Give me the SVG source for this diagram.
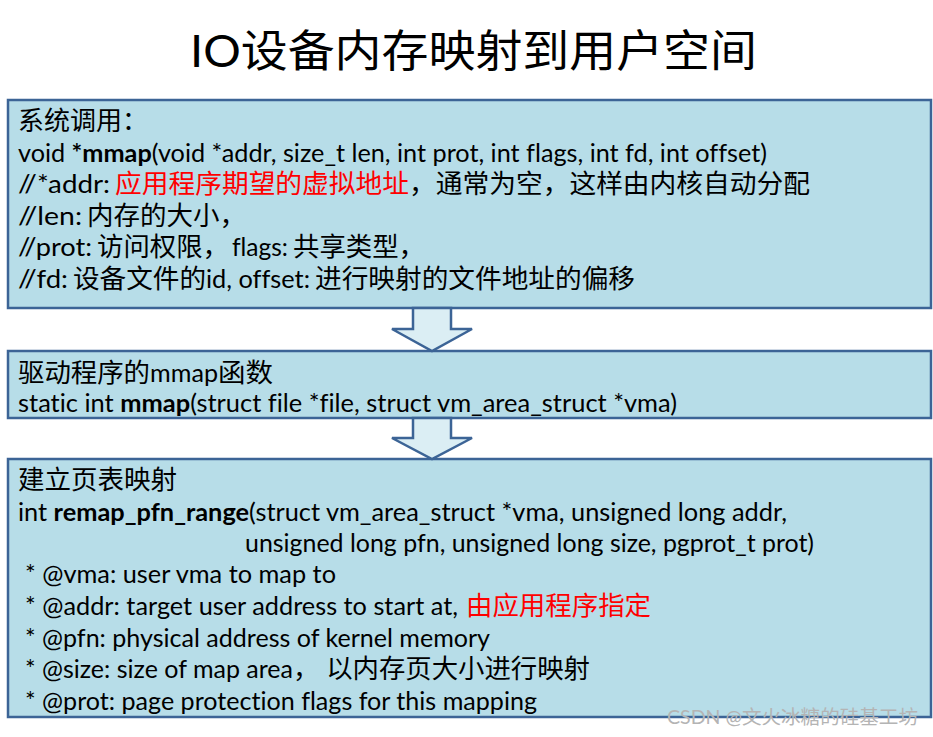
<svg xmlns="http://www.w3.org/2000/svg" width="933" height="737" viewBox="0 0 933 737">
<style>
.box{fill:#b7dde8;stroke:#3c6496;stroke-width:2.5}
.arr{fill:#dbeef4;stroke:#3c6496;stroke-width:2.5;stroke-linejoin:miter}
text{font-family:Lato,"Noto Sans CJK SC",sans-serif;font-size:25px;fill:#000;font-variant-ligatures:none}
.cj{font-family:Lato,"Noto Sans CJK SC",sans-serif;font-size:26px}
.red{fill:#ff0000}
.b{font-weight:bold}
.title{font-family:Lato,"Noto Sans CJK SC",sans-serif;font-size:44px}
.wm{font-family:Lato,"Noto Sans CJK SC",sans-serif;font-size:19px;fill:#b4b4b4}
</style>
<rect width="933" height="737" fill="#ffffff"/>
<text class="title" x="190" y="67" textLength="567" lengthAdjust="spacingAndGlyphs">IO设备内存映射到用户空间</text>

<g id="syscall">
<rect class="box" x="8" y="100" width="923" height="208"/>
<text class="cj" x="18" y="130">系统调用：</text>
<text x="18" y="162" textLength="749" lengthAdjust="spacingAndGlyphs">void <tspan class="b">*mmap</tspan>(void *addr, size_t len, int prot, int flags, int fd, int offset)</text>
<text x="18" y="193" textLength="92" lengthAdjust="spacingAndGlyphs">//*addr:</text>
<text class="cj red" x="115" y="193" textLength="294" lengthAdjust="spacingAndGlyphs">应用程序期望的虚拟地址</text>
<text class="cj" x="409" y="193" textLength="401" lengthAdjust="spacingAndGlyphs">，通常为空，这样由内核自动分配</text>
<text x="18" y="225" textLength="64" lengthAdjust="spacingAndGlyphs">//len:</text>
<text class="cj" x="87" y="225" textLength="159" lengthAdjust="spacingAndGlyphs">内存的大小，</text>
<text x="18" y="256" textLength="74" lengthAdjust="spacingAndGlyphs">//prot:</text>
<text class="cj" x="97" y="256" textLength="132" lengthAdjust="spacingAndGlyphs">访问权限，</text>
<text x="232" y="256" textLength="56" lengthAdjust="spacingAndGlyphs">flags:</text>
<text class="cj" x="293" y="256" textLength="132" lengthAdjust="spacingAndGlyphs">共享类型，</text>
<text x="18" y="288" textLength="50" lengthAdjust="spacingAndGlyphs">//fd:</text>
<text class="cj" x="73" y="288" textLength="133" lengthAdjust="spacingAndGlyphs">设备文件的</text>
<text x="206" y="288" textLength="104" lengthAdjust="spacingAndGlyphs">id, offset:</text>
<text class="cj" x="315" y="288" textLength="320" lengthAdjust="spacingAndGlyphs">进行映射的文件地址的偏移</text>
</g>

<g id="driver">
<rect class="box" x="8" y="351" width="923" height="67"/>
<text class="cj" x="18" y="382" textLength="132" lengthAdjust="spacingAndGlyphs">驱动程序的</text>
<text x="150" y="382" textLength="68" lengthAdjust="spacingAndGlyphs">mmap</text>
<text class="cj" x="218" y="382" textLength="55" lengthAdjust="spacingAndGlyphs">函数</text>
<text x="18" y="412" textLength="659" lengthAdjust="spacingAndGlyphs">static int <tspan class="b">mmap</tspan>(struct file *file, struct vm_area_struct *vma)</text>
</g>

<g id="pagetable">
<rect class="box" x="8" y="459" width="923" height="258"/>
<text class="cj" x="18" y="489" textLength="159" lengthAdjust="spacingAndGlyphs">建立页表映射</text>
<text x="18" y="521" textLength="769" lengthAdjust="spacingAndGlyphs">int <tspan class="b">remap_pfn_range</tspan>(struct vm_area_struct *vma, unsigned long addr,</text>
<text x="245" y="552" textLength="569" lengthAdjust="spacingAndGlyphs">unsigned long pfn, unsigned long size, pgprot_t prot)</text>
<text x="25" y="583" textLength="311" lengthAdjust="spacingAndGlyphs">* @vma: user vma to map to</text>
<text x="25" y="615" textLength="433" lengthAdjust="spacingAndGlyphs">* @addr: target user address to start at,</text>
<text class="cj red" x="466" y="615" textLength="185" lengthAdjust="spacingAndGlyphs">由应用程序指定</text>
<text x="25" y="647" textLength="465" lengthAdjust="spacingAndGlyphs">* @pfn: physical address of kernel memory</text>
<text x="25" y="678" textLength="268" lengthAdjust="spacingAndGlyphs">* @size: size of map area</text>
<text class="cj" x="293" y="678" textLength="297" lengthAdjust="spacingAndGlyphs">， 以内存页大小进行映射</text>
<text x="25" y="710" textLength="512" lengthAdjust="spacingAndGlyphs">* @prot: page protection flags for this mapping</text>
</g>

<g id="connectors">
<polygon class="arr" points="413,308 451,308 451,329 472,329 432,351 392,329 413,329"/>
<polygon class="arr" points="413,418 451,418 451,438 472,438 432,459 392,438 413,438"/>
</g>

<text class="wm" x="667" y="724" textLength="251" lengthAdjust="spacingAndGlyphs">CSDN @文火冰糖的硅基工坊</text>
</svg>
